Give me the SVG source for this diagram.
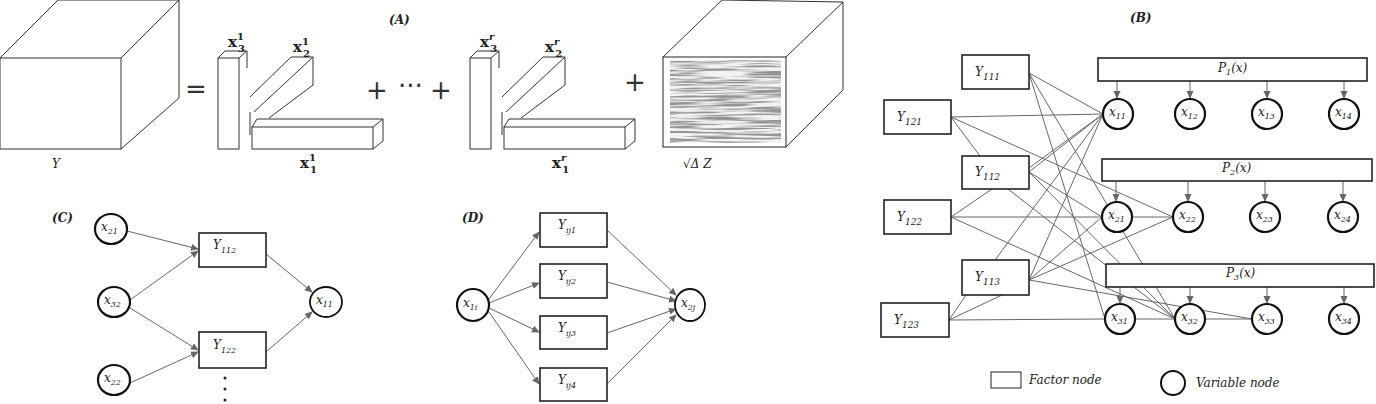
<svg xmlns="http://www.w3.org/2000/svg" width="1376" height="404" viewBox="0 0 1376 404">
<defs>
<marker id="ar" markerWidth="8" markerHeight="8" refX="7" refY="4" orient="auto" markerUnits="userSpaceOnUse"><path d="M0,0.5 L8,4 L0,7.5 z" fill="#666"/></marker>
<filter id="noise" x="0" y="0" width="1" height="1"><feTurbulence type="fractalNoise" baseFrequency="0.02 0.5" numOctaves="2" seed="3"/><feColorMatrix type="matrix" values="0 0 0 0 0.3  0 0 0 0 0.3  0 0 0 0 0.3  0 0 0 4 -1.6"/></filter>
<style>
.ln{stroke:#333;stroke-width:1;fill:none}
.bx{fill:#fff;stroke:#222;stroke-width:1.6}
.ci{fill:#fff;stroke:#111;stroke-width:2.2}
.e{stroke:#666;stroke-width:1;fill:none}
.a{stroke:#666;stroke-width:1;fill:none;marker-end:url(#ar)}
.m{font-family:"DejaVu Serif",serif;font-style:italic;font-size:12px;fill:#222}
.bm{font-family:"DejaVu Serif",serif;font-weight:bold;font-size:15px;fill:#222}
.lab{font-family:"DejaVu Serif",serif;font-style:italic;font-weight:bold;font-size:12px;fill:#222}
.big{font-family:"DejaVu Sans",sans-serif;font-size:26px;fill:#333}
</style>
</defs>
<rect width="1376" height="404" fill="#fff"/>

<!-- Panel A -->
<g id="cubeY">
<path class="ln" d="M0,58 L58,0 L179,0 L179,98 L121,149 M121,58 L179,0"/>
<rect class="ln" x="0" y="58" width="121" height="91"/>
<text class="m" x="52" y="168" font-size="15">Y</text>
</g>
<text class="big" x="185" y="98">=</text>
<g id="rank1">
<path class="ln" d="M218,58 L225,51 L247,51 L239,58 M247,51 L247,68"/>
<rect class="ln" x="218" y="58" width="21" height="91"/>
<path class="ln" d="M291,57 L313,57 L313,85 L269,118 M291,57 L250,97 M313,57 L254,112 M250,112 L250,135"/>
<path class="ln" d="M252,127 L257,119 L383,119 L373,127 M383,119 L383,141 L373,149"/>
<rect class="ln" x="252" y="127" width="121" height="22"/>
<text class="bm" x="228" y="47">x<tspan font-size="10" dy="-7">1</tspan><tspan font-size="10" dx="-6" dy="12">3</tspan></text>
<text class="bm" x="293" y="52">x<tspan font-size="10" dy="-7">1</tspan><tspan font-size="10" dx="-6" dy="12">2</tspan></text>
<text class="bm" x="300" y="168">x<tspan font-size="10" dy="-7">1</tspan><tspan font-size="10" dx="-6" dy="12">1</tspan></text>
</g>
<text class="big" x="366" y="99">+</text>
<text class="big" x="398" y="95" font-size="18">···</text>
<text class="big" x="430" y="99">+</text>
<g id="rankr" transform="translate(252,0)">
<path class="ln" d="M218,58 L225,51 L247,51 L239,58 M247,51 L247,68"/>
<rect class="ln" x="218" y="58" width="21" height="91"/>
<path class="ln" d="M291,57 L313,57 L313,85 L269,118 M291,57 L250,97 M313,57 L254,112 M250,112 L250,135"/>
<path class="ln" d="M252,127 L257,119 L383,119 L373,127 M383,119 L383,141 L373,149"/>
<rect class="ln" x="252" y="127" width="121" height="22"/>
<text class="bm" x="228" y="47">x<tspan font-size="10" font-style="italic" dy="-7">r</tspan><tspan font-size="10" dx="-4" dy="12">3</tspan></text>
<text class="bm" x="293" y="52">x<tspan font-size="10" font-style="italic" dy="-7">r</tspan><tspan font-size="10" dx="-4" dy="12">2</tspan></text>
<text class="bm" x="300" y="168">x<tspan font-size="10" font-style="italic" dy="-7">r</tspan><tspan font-size="10" dx="-4" dy="12">1</tspan></text>
</g>
<text class="big" x="624" y="91">+</text>
<g id="noiseCube">
<path class="ln" d="M663,57 L722,0 L843,2 L843,90 L786,147 M786,57 L843,2"/>
<rect x="663" y="57" width="123" height="90" fill="#fff" stroke="#222"/>
<rect x="670" y="60" width="111" height="83" fill="#f2f2f2"/>
<rect x="670" y="60" width="111" height="83" filter="url(#noise)"/>
<text class="m" x="683" y="168" font-size="15" font-style="normal">√Δ <tspan font-style="italic">Z</tspan></text>
</g>
<text class="lab" x="389" y="24">(A)</text>

<!-- Panel B -->
<text class="lab" x="1130" y="22">(B)</text>
<g id="B-edges">
<path class="e" d="M1029,73 L1103,114 M1029,73 L1105,319 M1029,73 L1175,319
M951,117 L1103,114 M951,117 L1173,217 M951,117 L980,156
M1029,172 L1103,114 M1029,168 L1103,114 M1029,172 L1102,217 M1029,172 L1175,319 M1008,189 L1175,319 M992,189 L951,217
M951,217 L1102,217 M951,217 L1175,319
M1029,280 L1103,114 M995,260 L1103,114 M1029,280 L1102,217 M1029,280 L1173,217 M1029,280 L1252,319
M966,295 L949,320 M1002,295 L949,320
M949,320 L1105,319
M1132,217 L1173,217 M1134,319 L1175,319 M1205,319 L1252,319"/>
</g>
<g id="B-arrows">
<path class="a" d="M1117,81 L1117,98"/><path class="a" d="M1190,81 L1190,98"/><path class="a" d="M1267,81 L1267,98"/><path class="a" d="M1344,81 L1344,98"/>
<path class="a" d="M1116,181 L1116,201"/><path class="a" d="M1188,181 L1188,201"/><path class="a" d="M1265,181 L1265,201"/><path class="a" d="M1343,181 L1343,201"/>
<path class="a" d="M1120,287 L1120,303"/><path class="a" d="M1190,287 L1190,303"/><path class="a" d="M1267,287 L1267,303"/><path class="a" d="M1344,287 L1344,303"/>
</g>
<g id="Y111"><rect class="bx" x="962" y="55" width="67" height="34"/><text class="m" x="975" y="76">Y<tspan font-size="9" dy="4">111</tspan></text></g>
<g id="Y121"><rect class="bx" x="884" y="100" width="67" height="34"/><text class="m" x="897" y="121">Y<tspan font-size="9" dy="4">121</tspan></text></g>
<g id="Y112"><rect class="bx" x="962" y="156" width="67" height="33"/><text class="m" x="975" y="176">Y<tspan font-size="9" dy="4">112</tspan></text></g>
<g id="Y122"><rect class="bx" x="884" y="200" width="67" height="34"/><text class="m" x="897" y="221">Y<tspan font-size="9" dy="4">122</tspan></text></g>
<g id="Y113"><rect class="bx" x="962" y="260" width="67" height="35"/><text class="m" x="975" y="281">Y<tspan font-size="9" dy="4">113</tspan></text></g>
<g id="Y123"><rect class="bx" x="881" y="303" width="68" height="34"/><text class="m" x="894" y="324">Y<tspan font-size="9" dy="4">123</tspan></text></g>
<g id="P1"><rect class="bx" x="1098" y="58" width="269" height="23"/><text class="m" x="1218" y="72" font-size="10">P<tspan font-size="8" dy="3">1</tspan><tspan dy="-3">(x)</tspan></text></g>
<g id="P2"><rect class="bx" x="1102" y="159" width="270" height="22"/><text class="m" x="1222" y="172" font-size="10">P<tspan font-size="8" dy="3">2</tspan><tspan dy="-3">(x)</tspan></text></g>
<g id="P3"><rect class="bx" x="1106" y="264" width="268" height="23"/><text class="m" x="1226" y="277" font-size="10">P<tspan font-size="8" dy="3">3</tspan><tspan dy="-3">(x)</tspan></text></g>
<g id="Bvars">
<g id="x11"><circle class="ci" cx="1118" cy="114" r="15"/><text class="m" x="1109" y="116" font-size="10">x<tspan font-size="8" dy="3">11</tspan></text></g>
<g id="x12"><circle class="ci" cx="1190" cy="114" r="15"/><text class="m" x="1181" y="116" font-size="10">x<tspan font-size="8" dy="3">12</tspan></text></g>
<g id="x13"><circle class="ci" cx="1267" cy="114" r="15"/><text class="m" x="1258" y="116" font-size="10">x<tspan font-size="8" dy="3">13</tspan></text></g>
<g id="x14"><circle class="ci" cx="1344" cy="114" r="15"/><text class="m" x="1335" y="116" font-size="10">x<tspan font-size="8" dy="3">14</tspan></text></g>
<g id="x21"><circle class="ci" cx="1117" cy="217" r="15"/><text class="m" x="1108" y="219" font-size="10">x<tspan font-size="8" dy="3">21</tspan></text></g>
<g id="x22"><circle class="ci" cx="1188" cy="217" r="15"/><text class="m" x="1179" y="219" font-size="10">x<tspan font-size="8" dy="3">22</tspan></text></g>
<g id="x23"><circle class="ci" cx="1265" cy="217" r="15"/><text class="m" x="1256" y="219" font-size="10">x<tspan font-size="8" dy="3">23</tspan></text></g>
<g id="x24"><circle class="ci" cx="1343" cy="217" r="15"/><text class="m" x="1334" y="219" font-size="10">x<tspan font-size="8" dy="3">24</tspan></text></g>
<g id="x31"><circle class="ci" cx="1120" cy="319" r="15"/><text class="m" x="1111" y="321" font-size="10">x<tspan font-size="8" dy="3">31</tspan></text></g>
<g id="x32"><circle class="ci" cx="1190" cy="319" r="15"/><text class="m" x="1181" y="321" font-size="10">x<tspan font-size="8" dy="3">32</tspan></text></g>
<g id="x33"><circle class="ci" cx="1267" cy="319" r="15"/><text class="m" x="1258" y="321" font-size="10">x<tspan font-size="8" dy="3">33</tspan></text></g>
<g id="x34"><circle class="ci" cx="1344" cy="319" r="15"/><text class="m" x="1335" y="321" font-size="10">x<tspan font-size="8" dy="3">34</tspan></text></g>
</g>
<g id="legend">
<rect x="991" y="372" width="30" height="16" fill="#fff" stroke="#222"/>
<text class="m" x="1029" y="384" font-size="11">Factor node</text>
<circle cx="1173" cy="383" r="12" fill="#fff" stroke="#111" stroke-width="2"/>
<text class="m" x="1196" y="387" font-size="11">Variable node</text>
</g>

<!-- Panel C -->
<text class="lab" x="52" y="222" font-weight="normal" font-size="13">(C)</text>
<g id="C-edges">
<path class="a" d="M127,231 L198,249"/><path class="a" d="M130,300 L198,251"/><path class="a" d="M130,308 L198,350"/><path class="a" d="M130,383 L198,352"/><path class="a" d="M266,254 L312,292"/><path class="a" d="M266,352 L312,312"/>
</g>
<g id="C-x21"><ellipse class="ci" cx="111" cy="229" rx="16" ry="15"/><text class="m" x="101" y="231" font-size="10">x<tspan font-size="8" dy="3">21</tspan></text></g>
<g id="C-x32"><ellipse class="ci" cx="114" cy="302" rx="16" ry="15"/><text class="m" x="104" y="304" font-size="10">x<tspan font-size="8" dy="3">32</tspan></text></g>
<g id="C-x22"><ellipse class="ci" cx="114" cy="380" rx="16" ry="15"/><text class="m" x="104" y="382" font-size="10">x<tspan font-size="8" dy="3">22</tspan></text></g>
<g id="C-x11"><ellipse cx="326" cy="302" rx="16" ry="15" fill="#fff" stroke="#111" stroke-width="1.8"/><text class="m" x="316" y="304" font-size="10">x<tspan font-size="8" dy="3">11</tspan></text></g>
<g id="C-Y112"><rect class="bx" x="199" y="233" width="67" height="34"/><text class="m" x="213" y="249" font-size="11">Y<tspan font-size="8" dy="4">112</tspan></text></g>
<g id="C-Y122"><rect class="bx" x="199" y="332" width="67" height="36"/><text class="m" x="213" y="349" font-size="11">Y<tspan font-size="8" dy="4">122</tspan></text></g>
<g fill="#222"><circle cx="225" cy="378" r="1.5"/><circle cx="225" cy="389" r="1.5"/><circle cx="225" cy="400" r="1.5"/></g>

<!-- Panel D -->
<text class="lab" x="462" y="222" font-weight="normal" font-size="13">(D)</text>
<g id="D-edges">
<path class="a" d="M489,299 L539,232"/><path class="a" d="M489,303 L539,283"/><path class="a" d="M489,308 L539,332"/><path class="a" d="M489,312 L539,384"/><path class="a" d="M607,230 L676,295"/><path class="a" d="M607,282 L676,301"/><path class="a" d="M607,333 L676,309"/><path class="a" d="M607,384 L676,315"/>
</g>
<g id="D-x1i"><ellipse class="ci" cx="473" cy="305" rx="16" ry="16"/><text class="m" x="463" y="307" font-size="10">x<tspan font-size="8" dy="3">1i</tspan></text></g>
<g id="D-x2j"><ellipse cx="690" cy="305" rx="15" ry="16" fill="#fff" stroke="#111" stroke-width="1.8"/><text class="m" x="681" y="307" font-size="10">x<tspan font-size="8" dy="3">2j</tspan></text></g>
<g id="D-Y1"><rect class="bx" x="540" y="213" width="67" height="34"/><text class="m" x="558" y="229" font-size="11">Y<tspan font-size="8" dy="4">ij1</tspan></text></g>
<g id="D-Y2"><rect class="bx" x="540" y="264" width="67" height="34"/><text class="m" x="558" y="280" font-size="11">Y<tspan font-size="8" dy="4">ij2</tspan></text></g>
<g id="D-Y3"><rect class="bx" x="540" y="316" width="67" height="33"/><text class="m" x="558" y="332" font-size="11">Y<tspan font-size="8" dy="4">ij3</tspan></text></g>
<g id="D-Y4"><rect class="bx" x="540" y="368" width="67" height="33"/><text class="m" x="558" y="384" font-size="11">Y<tspan font-size="8" dy="4">ij4</tspan></text></g>
</svg>
